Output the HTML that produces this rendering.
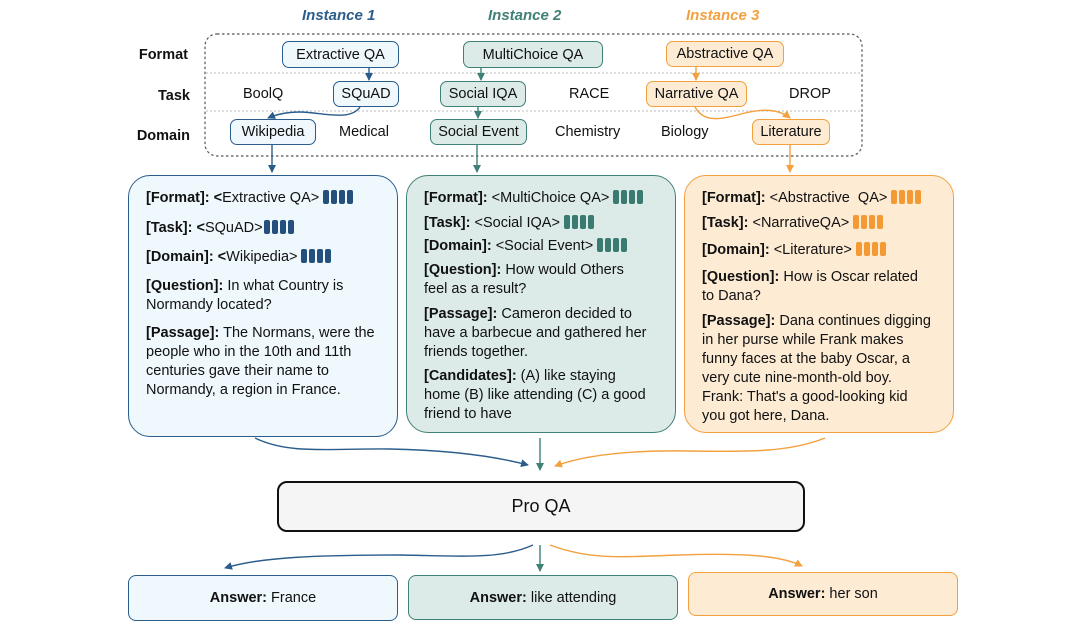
<!DOCTYPE html>
<html><head><meta charset="utf-8"><style>
body{margin:0;width:1080px;height:631px;background:#fff;position:relative;overflow:hidden;font-family:"Liberation Sans",sans-serif;color:#111}
.a{position:absolute;white-space:nowrap}
.t{position:absolute;white-space:nowrap;font-size:14.5px;line-height:18px}
.bx{position:absolute;box-sizing:border-box;display:flex;align-items:center;justify-content:center;font-size:14.5px;border-radius:7px;border-width:1.5px;border-style:solid}
.big{position:absolute;box-sizing:border-box;border-width:1.5px;border-style:solid;border-radius:22px}
.ans{position:absolute;box-sizing:border-box;border-width:1.5px;border-style:solid;border-radius:8px;display:flex;align-items:center;justify-content:center;font-size:14.5px}
.B{border-color:#2b5d8c;background:#eef8fd}
.G{border-color:#3f8077;background:#dcebe8}
.O{border-color:#f3a03e;background:#fdebd4}
.bars{display:inline-block;vertical-align:-2px;margin-left:4px}
.bars i{display:inline-block;width:6px;height:14px;border-radius:2px;margin-right:2px}
.bb i{background:#25507e}.bg i{background:#3a7a70}.bo i{background:#f39a35}
.lbl{position:absolute;font-weight:bold;font-size:14.5px;text-align:right;width:80px}
</style></head><body>

<div class="a" style="left:302px;top:7px;font-size:15px;font-weight:bold;font-style:italic;color:#2b5d8c">Instance 1</div>
<div class="a" style="left:488px;top:7px;font-size:15px;font-weight:bold;font-style:italic;color:#3f8077">Instance 2</div>
<div class="a" style="left:686px;top:7px;font-size:15px;font-weight:bold;font-style:italic;color:#f3a03e">Instance 3</div>

<svg width="1080" height="631" style="position:absolute;left:0;top:0">
<defs>
<marker id="mb" markerWidth="8" markerHeight="8" refX="7" refY="4" orient="auto" markerUnits="userSpaceOnUse"><path d="M0,0 L8,4 L0,8z" fill="#2b5d8c"/></marker>
<marker id="mg" markerWidth="8" markerHeight="8" refX="7" refY="4" orient="auto" markerUnits="userSpaceOnUse"><path d="M0,0 L8,4 L0,8z" fill="#3f8077"/></marker>
<marker id="mo" markerWidth="8" markerHeight="8" refX="7" refY="4" orient="auto" markerUnits="userSpaceOnUse"><path d="M0,0 L8,4 L0,8z" fill="#f3a03e"/></marker>
</defs>
<rect x="205" y="34" width="657" height="122" rx="12" fill="none" stroke="#555" stroke-width="1.2" stroke-dasharray="2.5,2.5"/>
<line x1="206" y1="73" x2="861" y2="73" stroke="#bbb" stroke-width="1" stroke-dasharray="2,2"/>
<line x1="206" y1="111" x2="861" y2="111" stroke="#bbb" stroke-width="1" stroke-dasharray="2,2"/>
<g fill="none" stroke-width="1.4">
<path d="M369,68 L369,80" stroke="#2b5d8c" marker-end="url(#mb)"/>
<path d="M360,107 C350,122 320,112 300,112 C285,112 275,115 268,118" stroke="#2b5d8c" marker-end="url(#mb)"/>
<path d="M481,68 L481,80" stroke="#3f8077" marker-end="url(#mg)"/>
<path d="M478,107 L478,118" stroke="#3f8077" marker-end="url(#mg)"/>
<path d="M696,67 L696,80" stroke="#f3a03e" marker-end="url(#mo)"/>
<path d="M695,107 C705,125 725,118 745,113 C765,108 780,110 790,118" stroke="#f3a03e" marker-end="url(#mo)"/>
<path d="M272,145 L272,172" stroke="#2b5d8c" marker-end="url(#mb)"/>
<path d="M477,145 L477,172" stroke="#3f8077" marker-end="url(#mg)"/>
<path d="M790,145 L790,172" stroke="#f3a03e" marker-end="url(#mo)"/>
<path d="M255,438 C290,455 330,448 390,449 C440,450 490,455 528,465" stroke="#2b5d8c" marker-end="url(#mb)"/>
<path d="M540,438 L540,470" stroke="#3f8077" marker-end="url(#mg)"/>
<path d="M825,438 C790,452 750,452 690,451 C630,450 585,455 555,466" stroke="#f3a03e" marker-end="url(#mo)"/>
<path d="M533,545 C500,560 460,556 400,555 C320,555 260,557 225,568" stroke="#2b5d8c" marker-end="url(#mb)"/>
<path d="M540,545 L540,571" stroke="#3f8077" marker-end="url(#mg)"/>
<path d="M550,545 C590,560 620,557 680,555 C740,553 780,555 802,566" stroke="#f3a03e" marker-end="url(#mo)"/>
</g>
</svg>

<div class="lbl" style="left:108px;top:47px">Format</div>
<div class="lbl" style="left:110px;top:88px">Task</div>
<div class="lbl" style="left:110px;top:128px">Domain</div>

<div class="bx B" style="left:282px;top:41px;width:117px;height:27px">Extractive QA</div>
<div class="bx G" style="left:463px;top:41px;width:140px;height:27px">MultiChoice QA</div>
<div class="bx O" style="left:666px;top:41px;width:118px;height:26px">Abstractive QA</div>

<div class="a" style="left:243px;top:86px;font-size:14.5px">BoolQ</div>
<div class="bx B" style="left:333px;top:81px;width:66px;height:26px">SQuAD</div>
<div class="bx G" style="left:440px;top:81px;width:86px;height:26px">Social IQA</div>
<div class="a" style="left:569px;top:86px;font-size:14.5px">RACE</div>
<div class="bx O" style="left:646px;top:81px;width:101px;height:26px">Narrative QA</div>
<div class="a" style="left:789px;top:86px;font-size:14.5px">DROP</div>

<div class="bx B" style="left:230px;top:119px;width:86px;height:26px">Wikipedia</div>
<div class="a" style="left:339px;top:124px;font-size:14.5px">Medical</div>
<div class="bx G" style="left:430px;top:119px;width:97px;height:26px">Social Event</div>
<div class="a" style="left:555px;top:124px;font-size:14.5px">Chemistry</div>
<div class="a" style="left:661px;top:124px;font-size:14.5px">Biology</div>
<div class="bx O" style="left:752px;top:119px;width:78px;height:26px">Literature</div>

<div class="big B" style="left:128px;top:175px;width:270px;height:262px"></div>
<div class="big G" style="left:406px;top:175px;width:270px;height:258px"></div>
<div class="big O" style="left:684px;top:175px;width:270px;height:258px"></div>

<!-- blue -->
<div class="t" style="left:146px;top:189px"><b>[Format]: &lt;</b>Extractive QA&gt;<span class="bars bb"><i></i><i></i><i></i><i></i></span></div>
<div class="t" style="left:146px;top:219px"><b>[Task]: &lt;</b>SQuAD&gt;<span class="bars bb" style="margin-left:1px"><i></i><i></i><i></i><i></i></span></div>
<div class="t" style="left:146px;top:248px"><b>[Domain]: &lt;</b>Wikipedia&gt;<span class="bars bb"><i></i><i></i><i></i><i></i></span></div>
<div class="t" style="left:146px;top:277px"><b>[Question]:</b> In what Country is</div>
<div class="t" style="left:146px;top:296px">Normandy located?</div>
<div class="t" style="left:146px;top:324px"><b>[Passage]:</b> The Normans, were the</div>
<div class="t" style="left:146px;top:343px">people who in the 10th and 11th</div>
<div class="t" style="left:146px;top:362px">centuries gave their name to</div>
<div class="t" style="left:146px;top:381px">Normandy, a region in France.</div>

<!-- green -->
<div class="t" style="left:424px;top:189px"><b>[Format]:</b> &lt;MultiChoice QA&gt;<span class="bars bg"><i></i><i></i><i></i><i></i></span></div>
<div class="t" style="left:424px;top:214px"><b>[Task]:</b> &lt;Social IQA&gt;<span class="bars bg"><i></i><i></i><i></i><i></i></span></div>
<div class="t" style="left:424px;top:237px"><b>[Domain]:</b> &lt;Social Event&gt;<span class="bars bg"><i></i><i></i><i></i><i></i></span></div>
<div class="t" style="left:424px;top:261px"><b>[Question]:</b> How would Others</div>
<div class="t" style="left:424px;top:280px">feel as a result?</div>
<div class="t" style="left:424px;top:305px"><b>[Passage]:</b> Cameron decided to</div>
<div class="t" style="left:424px;top:324px">have a barbecue and gathered her</div>
<div class="t" style="left:424px;top:343px">friends together.</div>
<div class="t" style="left:424px;top:367px"><b>[Candidates]:</b> (A) like staying</div>
<div class="t" style="left:424px;top:386px">home (B) like attending (C) a good</div>
<div class="t" style="left:424px;top:405px">friend to have</div>

<!-- orange -->
<div class="t" style="left:702px;top:189px"><b>[Format]:</b> &lt;Abstractive&nbsp; QA&gt;<span class="bars bo"><i></i><i></i><i></i><i></i></span></div>
<div class="t" style="left:702px;top:214px"><b>[Task]:</b> &lt;NarrativeQA&gt;<span class="bars bo"><i></i><i></i><i></i><i></i></span></div>
<div class="t" style="left:702px;top:241px"><b>[Domain]:</b> &lt;Literature&gt;<span class="bars bo"><i></i><i></i><i></i><i></i></span></div>
<div class="t" style="left:702px;top:268px"><b>[Question]:</b> How is Oscar related</div>
<div class="t" style="left:702px;top:287px">to Dana?</div>
<div class="t" style="left:702px;top:312px"><b>[Passage]:</b> Dana continues digging</div>
<div class="t" style="left:702px;top:331px">in her purse while Frank makes</div>
<div class="t" style="left:702px;top:350px">funny faces at the baby Oscar, a</div>
<div class="t" style="left:702px;top:369px">very cute nine-month-old boy.</div>
<div class="t" style="left:702px;top:388px">Frank: That's a good-looking kid</div>
<div class="t" style="left:702px;top:407px">you got here, Dana.</div>

<div class="a" style="left:277px;top:481px;width:528px;height:51px;box-sizing:border-box;border:2px solid #111;border-radius:10px;background:#f5f5f5;display:flex;align-items:center;justify-content:center;font-size:18px">Pro QA</div>

<div class="ans B" style="left:128px;top:575px;width:270px;height:46px"><b>Answer:</b>&nbsp;France</div>
<div class="ans G" style="left:408px;top:575px;width:270px;height:45px"><b>Answer:</b>&nbsp;like attending</div>
<div class="ans O" style="left:688px;top:572px;width:270px;height:44px"><b>Answer:</b>&nbsp;her son</div>
</body></html>
